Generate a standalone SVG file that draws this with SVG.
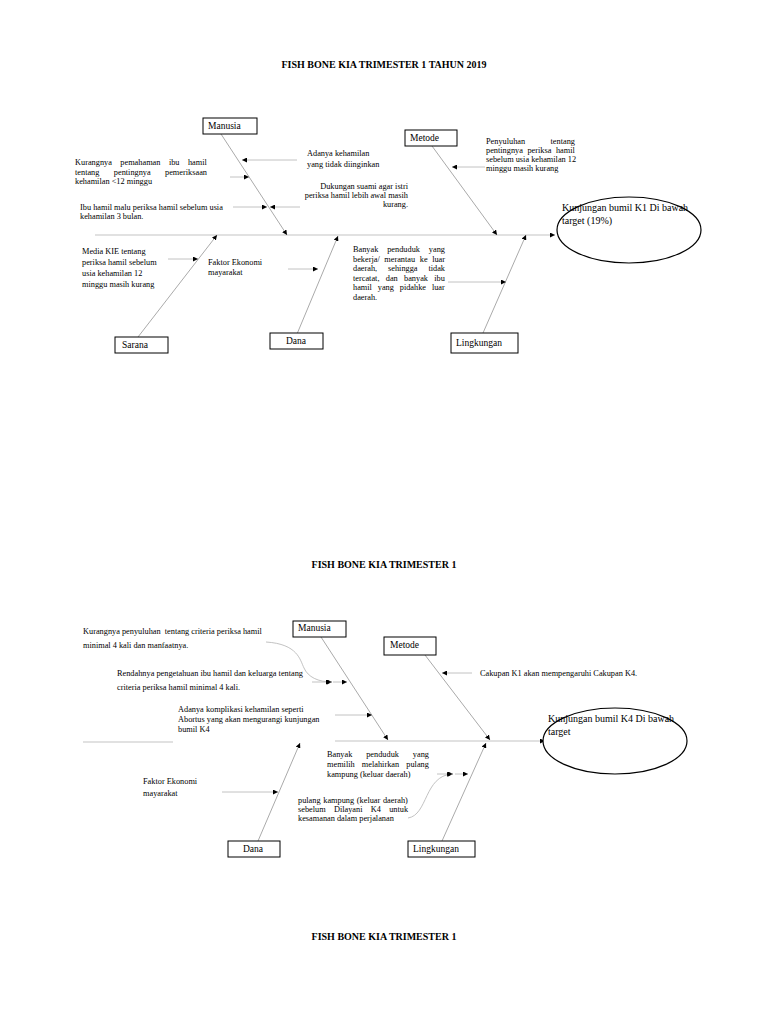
<svg xmlns="http://www.w3.org/2000/svg" width="768" height="1024" viewBox="0 0 768 1024">
<style>
text{font-family:"Liberation Serif","Times New Roman",serif;fill:#000}
.t{font-size:8.3px}
.lbl{font-size:9.5px}
.ell{font-size:10px}
.title{font-size:10px;font-weight:bold}
.box{fill:#fff;stroke:#000;stroke-width:1}
.bone{stroke:#aaa;stroke-width:1;fill:none}
.spine{stroke:#c4c4c4;stroke-width:1.2;fill:none}
.sub{stroke:#bbb;stroke-width:0.9;fill:none}
.oval{fill:#fff;stroke:#000;stroke-width:1.2}
</style>
<defs>
<marker id="ah" viewBox="0 0 6 6" refX="6" refY="3" markerWidth="5" markerHeight="5" markerUnits="userSpaceOnUse" orient="auto">
<path d="M0,0 L6,3 L0,6 z" fill="#000"/>
</marker>
</defs>
<rect width="768" height="1024" fill="#fff"/>

<text class="title" x="384" y="68" text-anchor="middle">FISH BONE KIA TRIMESTER 1 TAHUN 2019</text>
<text class="title" x="384" y="568" text-anchor="middle">FISH BONE KIA TRIMESTER 1</text>
<text class="title" x="384" y="940" text-anchor="middle">FISH BONE KIA TRIMESTER 1</text>

<g id="connectors">
<line class="spine" x1="95" y1="235" x2="555" y2="235" marker-end="url(#ah)"/>
<line class="bone" x1="221" y1="134" x2="287" y2="235" marker-end="url(#ah)"/>
<line class="bone" x1="432" y1="146" x2="497" y2="235" marker-end="url(#ah)"/>
<line class="bone" x1="138" y1="337" x2="217" y2="235" marker-end="url(#ah)"/>
<line class="bone" x1="297" y1="334" x2="338" y2="236" marker-end="url(#ah)"/>
<line class="bone" x1="483" y1="333" x2="526" y2="235" marker-end="url(#ah)"/>
<line class="sub" x1="297" y1="160" x2="242" y2="160" marker-end="url(#ah)"/>
<line class="sub" x1="230" y1="177" x2="249" y2="177" marker-end="url(#ah)"/>
<line class="sub" x1="300" y1="207" x2="270" y2="207" marker-end="url(#ah)"/>
<line class="sub" x1="233" y1="207" x2="267" y2="207" marker-end="url(#ah)"/>
<line class="sub" x1="485" y1="167" x2="452" y2="167" marker-end="url(#ah)"/>
<line class="sub" x1="168" y1="259" x2="198" y2="259" marker-end="url(#ah)"/>
<line class="sub" x1="288" y1="269" x2="318" y2="269" marker-end="url(#ah)"/>
<line class="sub" x1="448" y1="282" x2="506" y2="282" marker-end="url(#ah)"/>
<line class="spine" x1="83" y1="742" x2="173" y2="742"/>
<line class="spine" x1="335" y1="741" x2="545" y2="741" marker-end="url(#ah)"/>
<line class="bone" x1="321" y1="637" x2="388" y2="740" marker-end="url(#ah)"/>
<line class="bone" x1="425" y1="655" x2="490" y2="740" marker-end="url(#ah)"/>
<line class="bone" x1="258" y1="841" x2="300" y2="743" marker-end="url(#ah)"/>
<line class="bone" x1="442" y1="841" x2="486" y2="743" marker-end="url(#ah)"/>
<path class="sub" d="M266,642 C298,644 300,660 304,668 C308,677 318,682 332,682" marker-end="url(#ah)"/>
<line class="sub" x1="312" y1="682" x2="331" y2="682" marker-end="url(#ah)"/>
<line class="sub" x1="333" y1="682" x2="347" y2="682" marker-end="url(#ah)"/>
<line class="sub" x1="335" y1="715" x2="372" y2="715" marker-end="url(#ah)"/>
<line class="sub" x1="472" y1="673" x2="442" y2="673" marker-end="url(#ah)"/>
<line class="sub" x1="437" y1="774" x2="453" y2="774" marker-end="url(#ah)"/>
<line class="sub" x1="455" y1="774" x2="468" y2="774" marker-end="url(#ah)"/>
<path class="sub" d="M408,818 C428,815 424,776 452,774" marker-end="url(#ah)"/>
<line class="sub" x1="222" y1="792" x2="278" y2="792" marker-end="url(#ah)"/>
</g>

<g id="d1-manusia"><rect class="box" x="203" y="118" width="54" height="16"/><text class="lbl" x="208" y="129">Manusia</text></g>
<g id="d1-metode"><rect class="box" x="405" y="130" width="52" height="16"/><text class="lbl" x="410" y="141">Metode</text></g>
<g id="d1-sarana"><rect class="box" x="115" y="337" width="53" height="16"/><text class="lbl" x="122" y="348">Sarana</text></g>
<g id="d1-dana"><rect class="box" x="270" y="333" width="53" height="16"/><text class="lbl" x="286" y="344">Dana</text></g>
<g id="d1-lingkungan"><rect class="box" x="451" y="333" width="67" height="20"/><text class="lbl" x="456" y="346">Lingkungan</text></g>
<g id="d1-effect"><ellipse class="oval" cx="629" cy="230" rx="72" ry="33"/><text class="ell" x="562" y="211">Kunjungan bumil K1 Di bawah</text><text class="ell" x="562" y="224">target (19%)</text></g>

<g id="d1-causes">
<text class="t" x="307" y="156">Adanya kehamilan</text>
<text class="t" x="307" y="167">yang tidak diinginkan</text>
<text class="t" x="75" y="165" word-spacing="6.4">Kurangnya pemahaman ibu hamil</text>
<text class="t" x="75" y="175" word-spacing="12.3">tentang pentingnya pemeriksaan</text>
<text class="t" x="75" y="184">kehamilan &lt;12 minggu</text>
<text class="t" x="408" y="189" text-anchor="end">Dukungan suami agar istri</text>
<text class="t" x="408" y="198" text-anchor="end">periksa hamil lebih awal masih</text>
<text class="t" x="408" y="207" text-anchor="end">kurang.</text>
<text class="t" x="80" y="210">Ibu hamil malu periksa hamil sebelum usia</text>
<text class="t" x="80" y="219">kehamilan 3 bulan.</text>
<text class="t" x="486" y="144" word-spacing="23.3">Penyuluhan tentang</text>
<text class="t" x="486" y="153" word-spacing="2.5">pentingnya periksa hamil</text>
<text class="t" x="486" y="162">sebelum usia kehamilan 12</text>
<text class="t" x="486" y="171">minggu masih kurang</text>
<text class="t" x="82" y="254">Media KIE tentang</text>
<text class="t" x="82" y="265">periksa hamil sebelum</text>
<text class="t" x="82" y="276">usia kehamilan 12</text>
<text class="t" x="82" y="287">minggu masih kurang</text>
<text class="t" x="208" y="265">Faktor Ekonomi</text>
<text class="t" x="208" y="275">mayarakat</text>
<text class="t" x="353" y="252" word-spacing="6.8">Banyak penduduk yang</text>
<text class="t" x="353" y="261.5" word-spacing="2.5">bekerja/ merantau ke luar</text>
<text class="t" x="353" y="271" word-spacing="8.8">daerah, sehingga tidak</text>
<text class="t" x="353" y="280.5" word-spacing="4.2">tercatat, dan banyak ibu</text>
<text class="t" x="353" y="290" word-spacing="3.8">hamil yang pidahke luar</text>
<text class="t" x="353" y="299.5">daerah.</text>
</g>

<g id="d2-manusia"><rect class="box" x="293" y="621" width="53" height="16"/><text class="lbl" x="298" y="631">Manusia</text></g>
<g id="d2-metode"><rect class="box" x="384" y="637" width="52" height="18"/><text class="lbl" x="390" y="648">Metode</text></g>
<g id="d2-dana"><rect class="box" x="228" y="841" width="52" height="16"/><text class="lbl" x="243" y="852">Dana</text></g>
<g id="d2-lingkungan"><rect class="box" x="408" y="841" width="67" height="16"/><text class="lbl" x="413" y="852">Lingkungan</text></g>
<g id="d2-effect"><ellipse class="oval" cx="615" cy="741" rx="72" ry="33"/><text class="ell" x="548" y="722">Kunjungan bumil K4 Di bawah</text><text class="ell" x="548" y="735">target</text></g>

<g id="d2-causes">
<text class="t" x="83" y="634" style="white-space:pre">Kurangnya penyuluhan  tentang criteria periksa hamil</text>
<text class="t" x="83" y="648">minimal 4 kali dan manfaatnya.</text>
<text class="t" x="117" y="676">Rendahnya pengetahuan ibu hamil dan keluarga tentang</text>
<text class="t" x="117" y="690">criteria periksa hamil minimal 4 kali.</text>
<text class="t" x="178" y="712">Adanya komplikasi kehamilan seperti</text>
<text class="t" x="178" y="722">Abortus yang akan mengurangi kunjungan</text>
<text class="t" x="178" y="732">bumil K4</text>
<text class="t" x="480" y="676">Cakupan K1 akan mempengaruhi Cakupan K4.</text>
<text class="t" x="327" y="757" word-spacing="11.8">Banyak penduduk yang</text>
<text class="t" x="327" y="767" word-spacing="5.1">memilih melahirkan pulang</text>
<text class="t" x="327" y="777">kampung (keluar daerah)</text>
<text class="t" x="143" y="784">Faktor Ekonomi</text>
<text class="t" x="143" y="796">mayarakat</text>
<text class="t" x="298" y="803" word-spacing="0.6">pulang kampung (keluar daerah)</text>
<text class="t" x="298" y="812" word-spacing="6.2">sebelum Dilayani K4 untuk</text>
<text class="t" x="298" y="821">kesamanan dalam perjalanan</text>
</g>
</svg>
